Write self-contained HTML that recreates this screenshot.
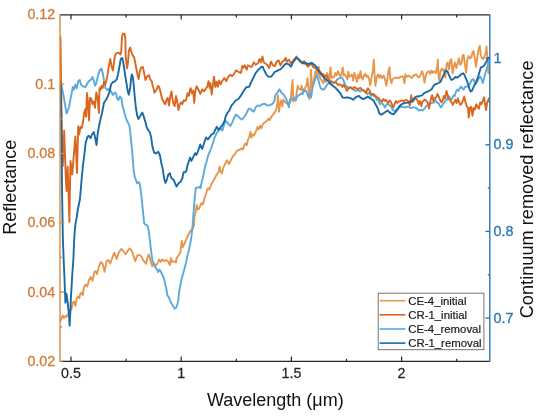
<!DOCTYPE html>
<html><head><meta charset="utf-8"><title>Reflectance spectra</title>
<style>html,body{margin:0;padding:0;background:#fff}body{width:550px;height:418px;overflow:hidden;position:relative}</style></head>
<body>
<svg width="550" height="418" viewBox="0 0 550 418" style="position:absolute;left:0;top:0">
<rect width="550" height="418" fill="#fff"/>
<clipPath id="c"><rect x="60.0" y="14.8" width="429.8" height="346.59999999999997"/></clipPath>
<g clip-path="url(#c)">
<polyline points="60.1,321.8 61.4,318.6 62.6,315.4 63.9,318.0 65.2,316.0 66.5,317.0 67.7,314.8 69.5,312.0 71.5,309.0 72.8,302.7 74.0,301.5 75.4,306.0 76.6,299.0 77.9,296.4 79.2,298.3 80.4,293.8 81.7,292.5 83.0,295.0 83.6,288.0 85.5,284.5 87.4,286.4 88.7,280.7 90.6,277.0 92.5,280.7 94.4,271.8 95.7,271.2 97.0,274.0 98.9,266.7 100.8,262.0 102.7,264.0 104.6,271.8 106.5,261.6 108.4,260.0 110.3,263.5 112.3,257.8 114.2,252.7 116.7,259.0 118.6,252.7 121.2,249.0 121.9,249.2 123.8,251.7 125.7,254.3 127.6,251.0 129.5,248.5 131.5,250.4 133.4,255.5 135.3,261.3 137.2,255.5 139.7,254.9 141.6,256.8 143.5,260.6 146.1,263.8 147.4,258.0 148.6,254.3 149.9,258.0 151.2,263.2 152.4,266.3 153.7,263.2 155.6,265.7 157.5,263.2 159.4,259.4 160.7,261.9 162.6,259.4 164.5,261.3 166.4,260.0 168.3,261.9 169.9,265.0 170.9,258.0 172.2,261.9 174.1,261.3 176.0,262.5 176.6,258.0 178.5,255.5 180.4,252.4 181.7,240.9 182.6,247.3 184.3,244.0 186.2,239.6 186.9,238.2 188.8,233.7 190.7,230.5 192.6,229.3 193.9,225.4 194.5,216.5 195.8,211.5 196.7,205.0 197.7,209.5 199.0,208.9 200.3,205.7 201.5,203.2 202.8,204.5 204.1,199.6 205.4,195.8 206.6,192.0 207.9,188.2 209.2,189.4 210.4,186.9 211.7,183.7 213.6,180.5 215.5,176.7 217.4,173.5 218.7,171.6 219.6,166.5 220.6,171.6 221.9,173.5 223.2,167.8 224.4,165.3 225.7,162.7 227.0,160.2 228.9,164.0 230.2,161.5 231.4,158.9 233.3,155.7 235.3,153.8 236.5,151.3 237.8,150.3 239.7,149.6 241.6,148.3 242.9,149.6 244.2,145.8 245.4,143.3 246.7,145.2 248.0,139.4 249.2,137.5 250.5,131.8 251.5,137.5 252.7,134.5 253.8,135.5 255.7,132.0 257.4,127.0 258.7,129.5 260.2,125.7 261.5,128.3 262.7,124.4 264.6,122.5 266.5,121.3 268.4,118.7 269.7,120.0 271.0,117.4 272.9,114.9 274.8,112.4 276.1,109.8 277.4,102.8 278.0,95.2 279.0,111.7 279.9,105.4 281.2,100.3 282.4,106.6 283.3,99.6 284.4,100.9 285.6,102.8 287.5,104.0 289.4,103.4 290.7,101.5 291.7,87.5 292.6,80.0 293.3,101.5 294.5,97.7 295.5,100.9 296.4,95.2 297.7,85.8 299.0,88.8 300.9,89.5 301.5,85.8 302.8,91.4 304.7,88.8 306.6,85.0 307.5,78.2 308.5,88.3 309.2,99.0 310.4,92.6 311.0,69.9 312.0,87.0 313.6,80.7 315.5,71.8 316.4,70.5 317.5,75.6 318.8,66.7 320.0,78.2 322.0,80.7 323.3,83.3 324.5,78.2 325.8,82.0 327.0,73.0 328.4,75.6 329.6,77.5 330.5,67.4 331.5,78.2 332.8,76.9 334.0,77.5 335.4,73.0 336.6,75.6 337.9,71.2 339.2,74.4 340.4,76.3 341.7,73.0 342.7,67.4 343.6,75.6 344.9,74.4 346.2,76.9 347.4,79.4 348.3,71.8 349.4,76.9 350.6,75.6 351.9,74.4 353.2,80.7 354.4,73.0 355.7,76.9 357.0,82.0 358.3,74.4 359.5,78.2 360.5,71.2 361.4,76.9 362.7,79.4 364.0,75.6 365.3,73.7 366.5,76.9 367.8,75.6 369.0,78.8 370.3,85.2 371.6,76.9 372.9,70.5 373.8,59.7 374.8,78.2 375.4,85.8 376.7,76.9 378.0,74.4 379.2,77.5 380.5,75.0 381.8,78.2 383.7,75.6 385.0,79.4 386.4,85.8 387.6,76.9 388.7,69.3 389.5,67.4 390.2,78.2 391.5,83.3 392.7,78.8 394.6,78.2 396.5,77.5 398.4,78.2 400.4,76.9 402.3,76.3 403.5,77.5 404.4,83.3 405.4,74.4 406.7,76.9 408.6,75.6 410.5,76.9 411.8,78.2 413.0,76.3 414.4,75.0 416.3,74.4 418.2,77.5 420.0,76.3 421.3,73.0 422.2,71.2 423.3,75.0 424.5,82.6 425.8,75.6 427.0,72.4 429.0,71.2 430.3,73.7 431.5,70.5 432.8,73.0 434.0,71.2 436.0,73.0 437.3,65.4 437.9,59.7 438.5,77.0 439.3,80.8 440.4,71.8 441.7,68.6 443.0,70.5 444.2,69.3 445.4,77.6 446.5,64.3 447.7,62.4 449.0,69.4 450.3,60.4 451.3,59.2 452.6,73.2 453.8,66.8 455.0,62.4 456.4,68.0 457.6,63.6 458.9,58.5 460.2,64.9 461.5,63.0 462.7,55.4 463.6,54.7 464.9,64.3 466.2,72.5 467.4,59.2 468.7,56.0 470.0,58.5 471.3,57.3 472.5,52.8 473.5,51.0 474.8,57.9 476.0,66.8 477.4,56.6 478.6,49.0 479.8,45.8 480.8,55.4 482.0,57.9 483.3,59.2 484.6,56.0 485.9,52.8 486.5,46.5 487.4,57.9 488.4,73.2" fill="none" stroke="#e8964c" stroke-width="1.9" stroke-linejoin="round" stroke-linecap="round"/>
<polyline points="60.7,82.0 61.5,86.0 62.6,91.0 63.9,97.6 65.8,109.0 66.7,113.5 67.7,110.4 69.0,107.8 70.3,100.0 71.5,94.0 72.8,87.0 74.0,89.6 75.4,84.5 76.6,88.3 78.5,80.7 79.8,80.0 81.0,84.5 83.0,86.4 85.5,87.0 87.4,83.3 89.4,80.7 91.3,79.4 92.5,76.9 93.8,80.7 95.0,85.8 96.3,83.3 98.3,74.4 100.2,69.3 101.4,68.6 102.7,73.0 104.0,80.7 105.5,88.0 107.0,90.0 108.5,89.0 109.5,91.0 111.0,91.3 112.9,95.0 114.8,92.5 116.0,93.5 117.3,99.0 118.6,100.0 119.9,96.4 121.3,97.9 122.5,105.5 124.5,113.2 126.4,119.5 128.3,123.3 129.5,126.0 130.8,137.7 132.1,150.4 133.4,167.0 134.6,176.5 135.9,180.0 137.2,183.3 139.1,182.0 140.4,187.7 141.6,197.9 142.9,210.6 144.2,223.3 145.4,224.5 147.4,225.6 148.6,230.0 149.9,240.3 151.2,251.7 152.4,260.6 153.7,263.2 155.0,267.0 156.9,269.5 158.2,272.0 159.4,269.5 160.7,271.4 162.6,275.5 163.9,278.5 165.2,283.9 166.4,289.0 167.3,295.4 169.0,297.3 169.9,300.4 171.5,303.6 173.2,306.2 174.7,308.7 176.0,308.0 177.3,304.9 178.3,300.4 179.2,291.5 180.4,285.2 181.7,278.8 182.5,276.0 183.6,272.0 184.9,267.0 186.2,261.9 187.4,255.5 188.7,251.0 190.1,244.5 191.4,236.9 192.6,225.4 193.9,208.0 194.9,196.0 195.8,188.2 197.7,187.5 199.6,186.9 200.5,188.2 201.5,183.0 202.8,178.0 204.1,171.6 205.4,165.3 206.6,161.5 207.9,156.4 209.2,152.8 211.1,148.3 212.4,144.5 213.6,140.7 214.9,136.9 216.8,133.0 218.7,129.9 220.6,128.6 222.5,130.5 223.8,125.4 225.7,121.0 227.6,122.9 230.2,126.0 232.1,122.9 234.0,117.8 235.9,114.6 237.8,115.9 239.7,117.8 241.6,119.7 243.5,117.8 245.4,115.3 247.3,111.4 248.6,108.9 250.5,108.8 251.9,110.4 253.8,111.7 255.7,107.3 257.6,105.4 259.5,106.0 261.5,104.7 263.4,104.0 265.3,104.0 267.2,105.4 269.1,105.4 271.0,104.7 272.9,103.4 274.2,101.5 275.4,95.2 276.7,93.3 278.0,92.0 279.3,89.3 280.5,90.7 281.8,93.3 283.7,94.5 285.0,97.0 286.3,99.0 287.5,102.8 288.8,107.3 289.7,100.3 290.7,98.4 292.6,99.6 294.5,97.7 295.8,100.3 297.1,96.4 299.0,95.2 300.9,93.5 302.8,94.0 303.4,89.6 304.7,91.4 306.0,90.5 307.3,93.9 308.5,97.0 309.8,93.9 311.1,97.7 312.3,89.0 313.6,84.0 314.2,82.0 316.2,76.3 316.9,75.0 318.2,79.4 319.5,84.5 320.7,88.3 322.6,89.6 324.5,89.0 326.5,85.8 327.7,83.9 329.6,83.3 331.5,81.3 333.4,82.6 335.4,82.0 337.3,79.4 339.2,78.2 341.0,77.5 342.3,78.2 343.6,80.7 345.5,85.5 348.0,87.7 350.6,87.0 353.2,89.6 355.7,90.9 358.3,90.3 360.2,91.5 362.0,89.6 364.0,90.3 365.9,92.2 367.2,94.0 369.0,92.8 371.0,96.0 372.9,94.0 374.2,96.6 375.4,95.4 376.7,99.8 378.0,99.2 379.2,102.4 380.0,104.2 381.9,102.9 383.8,105.4 385.0,107.4 386.4,104.8 387.6,103.5 389.5,105.4 391.5,106.7 392.7,109.9 394.6,111.2 395.9,109.9 397.8,108.6 399.7,107.4 401.6,106.7 403.5,107.4 405.4,107.4 407.4,106.7 409.3,107.4 411.2,108.0 413.0,107.4 415.0,107.4 416.9,108.6 418.8,110.5 420.7,109.9 422.6,110.5 424.5,108.6 426.4,106.0 428.3,104.8 430.3,103.5 432.2,102.9 434.0,102.3 435.0,99.5 436.9,102.4 438.8,103.6 440.7,107.4 442.0,106.2 443.3,103.6 445.2,101.0 447.0,99.8 448.4,96.0 449.6,97.3 450.9,99.8 452.2,98.5 453.4,95.4 454.7,96.0 456.0,91.5 457.3,89.6 458.5,90.9 459.8,88.4 461.0,86.5 462.4,88.4 463.6,89.6 464.9,87.0 466.8,86.5 468.7,85.8 470.6,82.3 471.9,79.8 473.2,79.0 474.4,81.5 475.7,84.0 477.0,82.0 478.3,79.2 480.2,76.6 481.4,78.8 482.8,83.0 484.0,78.5 485.3,73.2 486.5,69.4 487.8,65.5 489.0,60.4" fill="none" stroke="#5aaadb" stroke-width="1.9" stroke-linejoin="round" stroke-linecap="round"/>
<polyline points="60.4,37.0 60.8,60.0 61.5,110.0 62.2,150.0 62.8,166.0 63.5,150.0 64.2,130.7 64.8,150.0 65.8,178.0 66.5,191.0 67.7,166.7 69.4,222.0 70.5,161.0 72.2,174.4 74.0,152.7 75.4,136.4 77.0,173.0 78.2,126.3 79.2,134.5 80.4,126.9 81.7,128.0 83.0,121.8 84.3,112.3 85.5,109.0 86.2,116.7 86.9,93.0 88.0,102.7 89.1,120.5 90.0,97.6 91.3,99.0 92.5,104.0 93.8,101.5 95.0,107.8 96.3,92.5 97.6,97.6 98.9,113.0 99.5,88.0 100.5,90.0 101.5,86.0 102.7,88.0 104.0,82.0 105.3,84.5 107.2,76.9 109.0,65.4 110.3,59.0 111.6,66.7 112.9,70.5 114.8,56.5 116.0,53.4 118.6,52.7 120.5,54.6 121.3,50.4 121.9,37.7 122.8,33.7 124.5,33.7 125.3,37.7 125.7,56.8 127.0,68.3 127.9,63.2 128.9,50.4 130.2,47.6 131.5,52.4 132.7,55.5 134.0,56.8 135.3,63.2 136.5,69.5 137.8,75.9 138.6,79.0 139.7,72.0 141.0,67.6 142.9,67.0 144.2,73.3 145.4,80.0 147.4,76.0 149.3,75.3 149.9,78.8 151.8,81.4 152.8,86.5 153.7,89.0 154.4,92.8 156.3,90.3 158.2,85.8 159.4,87.7 160.7,92.8 162.0,98.5 163.9,102.4 165.2,104.3 166.4,99.8 167.7,97.9 169.0,105.5 170.3,96.0 171.5,91.5 172.4,97.9 173.4,103.6 174.7,106.2 176.0,96.0 177.0,100.4 178.5,110.0 179.8,104.3 181.1,102.4 182.3,104.3 183.6,100.4 185.5,101.0 186.3,99.0 187.5,93.3 188.8,95.8 190.1,89.4 190.7,88.2 192.0,93.3 193.3,90.7 194.2,103.0 195.2,92.0 196.5,86.3 197.7,88.2 199.0,90.7 200.3,93.9 202.2,89.4 204.1,91.3 206.0,88.2 207.3,86.9 208.5,81.2 209.8,88.2 210.4,83.1 211.7,94.5 212.7,86.9 214.0,76.7 215.3,86.9 216.6,81.8 217.8,86.9 219.1,80.5 220.6,84.4 222.5,80.5 224.4,78.0 226.3,81.2 228.3,76.7 230.2,74.8 232.1,76.1 234.0,74.2 235.9,70.4 237.8,71.6 239.7,72.3 241.0,72.9 242.3,65.9 243.5,67.8 244.8,65.3 246.7,69.7 248.0,65.3 249.9,66.5 251.9,66.7 253.8,62.3 255.7,64.8 257.6,63.5 259.5,59.0 260.8,62.3 262.5,56.5 263.7,62.3 265.3,63.5 267.2,64.8 269.1,68.0 271.0,61.6 272.9,65.4 274.8,66.0 276.7,61.6 278.6,60.4 280.5,65.4 282.4,61.6 284.4,60.4 285.6,57.8 286.9,61.6 288.8,59.7 290.7,62.9 292.6,61.6 294.5,59.0 296.4,56.5 298.3,59.0 300.3,61.6 302.2,63.5 304.1,61.0 306.0,64.2 307.9,66.7 309.8,64.8 311.7,64.2 313.6,67.4 315.5,68.0 317.4,70.5 319.3,70.5 321.0,73.0 323.0,74.0 325.0,76.0 327.0,75.6 328.4,79.0 330.3,80.7 332.2,82.0 334.0,83.0 336.0,82.0 338.0,85.0 339.2,84.5 340.4,84.5 342.4,87.0 343.6,84.5 345.5,87.7 346.8,90.9 348.7,88.4 350.6,87.7 352.5,89.0 354.4,87.0 356.3,88.4 358.3,89.0 360.2,87.7 362.0,89.6 364.0,90.9 365.9,92.8 367.8,88.4 369.0,89.6 370.3,92.2 371.6,94.7 373.5,94.0 375.4,96.0 377.3,97.3 379.2,98.5 380.0,100.4 381.9,101.6 383.2,99.0 384.5,101.0 385.7,99.7 387.0,101.6 388.3,102.9 389.5,100.4 390.8,101.6 392.0,104.8 393.4,107.4 394.6,104.2 395.9,101.0 397.2,102.9 398.4,101.6 400.4,101.0 402.3,100.4 404.2,101.0 406.0,99.7 408.0,101.0 409.9,105.4 411.2,95.3 412.4,102.3 413.7,100.4 415.0,99.0 416.3,98.4 417.5,100.4 418.8,104.2 420.0,101.0 421.3,106.0 422.6,101.6 423.9,100.4 425.2,99.7 426.4,101.0 427.7,102.3 429.0,108.6 430.3,101.6 431.5,96.5 432.2,95.3 433.4,101.0 434.7,98.4 436.3,97.3 437.5,94.0 438.8,96.6 440.0,99.8 441.4,102.4 442.6,100.4 443.9,96.0 445.2,98.5 446.5,90.9 447.7,95.4 449.0,99.2 450.3,100.4 451.5,102.4 452.8,104.9 454.0,102.4 455.4,99.8 456.6,103.0 457.9,98.5 459.2,102.4 460.4,104.9 461.7,103.6 463.0,100.4 464.3,96.6 465.5,102.4 466.8,106.2 468.0,108.0 468.7,117.6 470.0,108.0 471.3,106.8 472.5,115.7 473.8,108.0 475.0,109.4 476.3,104.3 477.6,106.8 478.9,108.7 480.2,102.4 481.4,104.3 482.7,101.0 484.0,97.3 485.3,105.5 486.1,110.0 487.2,102.4 488.4,99.8 489.2,98.0" fill="none" stroke="#d9681e" stroke-width="1.9" stroke-linejoin="round" stroke-linecap="round"/>
<polyline points="60.7,83.0 61.0,100.0 61.6,150.0 62.2,200.0 62.9,240.0 63.9,265.4 64.5,278.0 64.9,290.0 65.4,302.7 66.5,293.8 67.7,302.7 69.0,315.4 69.6,325.6 70.3,313.0 70.9,297.6 71.5,288.0 72.2,275.6 73.4,259.0 74.0,243.0 74.7,232.0 75.4,224.4 76.6,218.0 77.9,209.0 79.8,200.0 80.6,192.0 81.7,178.0 83.0,165.4 84.3,155.0 85.5,143.8 86.2,141.0 87.4,137.0 88.7,135.8 90.6,138.3 91.9,134.5 93.8,132.0 95.0,137.0 96.5,145.0 97.6,134.5 98.9,126.9 100.2,120.5 102.0,113.0 104.0,102.7 105.9,100.0 107.8,96.4 109.7,91.5 111.0,84.5 112.9,82.0 114.8,81.3 116.7,79.4 118.0,74.4 119.2,68.0 120.5,60.4 121.5,58.0 122.5,58.3 123.8,65.7 125.0,74.0 126.4,82.6 127.6,90.3 128.7,94.7 130.2,87.7 131.2,77.5 131.8,74.5 132.7,76.5 133.4,81.4 134.6,95.4 135.9,108.0 137.2,115.7 138.4,118.9 140.4,115.7 142.3,112.5 143.5,115.7 145.4,122.0 146.5,126.5 147.4,128.8 149.9,132.6 151.2,137.7 152.4,146.6 154.1,152.4 155.6,153.6 158.2,151.7 160.0,155.5 161.3,163.2 162.6,168.3 163.6,175.0 164.5,180.0 165.5,182.9 167.1,178.8 168.3,174.5 169.9,173.3 170.6,176.0 171.5,178.2 173.4,179.5 175.3,183.9 176.6,186.5 178.5,183.3 180.4,182.0 182.3,178.5 183.6,172.3 185.0,172.3 186.3,171.0 187.5,165.3 188.8,161.5 190.1,157.6 191.4,160.8 192.6,158.3 193.9,155.7 195.2,153.2 196.5,155.0 197.7,151.8 199.0,148.3 200.3,144.5 202.2,149.0 204.1,143.3 206.0,137.5 207.9,139.4 209.8,136.9 211.7,134.4 213.6,133.7 214.9,130.5 216.8,126.7 218.7,129.9 220.6,127.4 222.5,124.8 224.4,121.6 225.7,116.5 227.6,112.7 229.5,110.2 231.4,105.7 233.3,103.5 235.6,100.5 238.4,99.0 240.3,96.4 242.3,93.3 244.2,90.0 246.1,87.5 248.0,86.9 249.2,86.9 250.5,83.5 251.9,80.7 253.8,76.9 255.7,73.0 257.6,70.5 259.5,68.6 261.5,66.7 262.7,66.7 264.0,69.9 265.9,73.7 267.8,76.3 269.7,76.9 271.6,76.3 273.5,73.7 274.8,71.8 276.7,71.2 278.6,69.9 280.5,69.3 282.4,67.4 284.4,64.8 286.3,63.5 288.2,64.2 289.4,64.8 291.0,66.7 292.6,62.9 294.5,60.4 296.4,57.8 298.3,59.0 300.3,61.0 302.2,62.3 304.1,63.5 306.0,62.9 307.9,64.2 309.8,63.5 311.7,62.9 313.6,64.2 315.5,66.0 316.9,67.4 318.8,71.2 320.7,73.7 322.6,76.0 325.2,78.8 327.7,80.7 330.3,83.5 332.8,85.8 335.4,87.7 337.9,90.5 340.4,93.4 342.4,97.3 344.3,97.9 346.8,97.3 349.4,97.9 351.3,98.5 353.2,99.8 355.0,97.9 357.0,96.6 358.9,96.0 360.8,97.9 363.3,99.2 365.9,97.9 367.8,96.6 369.7,97.9 371.6,99.2 373.5,100.4 374.8,103.0 376.7,106.2 378.0,109.4 379.2,113.2 381.2,114.8 383.0,113.7 385.7,111.8 387.6,110.5 389.5,112.4 391.5,113.7 393.4,114.4 395.3,112.4 397.2,110.0 399.0,106.7 401.0,104.8 402.9,103.5 404.8,102.9 406.7,102.9 408.6,102.3 410.5,101.6 412.4,100.4 414.4,97.8 416.3,96.5 418.2,96.5 420.0,95.9 422.0,95.3 423.9,93.4 425.8,92.3 427.7,91.5 429.6,90.5 431.5,89.5 432.8,87.0 434.7,84.5 436.6,84.0 438.5,83.0 440.4,82.0 442.0,78.7 443.6,75.0 444.9,72.0 446.2,70.7 447.4,71.2 448.7,74.4 450.3,78.0 451.5,80.0 453.4,79.0 455.4,77.0 457.3,77.6 459.2,76.3 461.0,74.4 463.0,73.2 464.3,74.7 465.5,77.5 466.8,80.5 468.0,84.0 469.4,88.5 470.6,91.5 471.9,90.9 473.2,87.8 474.4,85.2 475.5,83.5 477.0,79.7 478.3,76.0 479.5,71.9 480.8,67.4 482.7,66.8 484.6,64.9 485.9,62.4 487.2,59.8 488.4,57.9 489.3,57.5" fill="none" stroke="#1a6aa3" stroke-width="1.9" stroke-linejoin="round" stroke-linecap="round"/>
</g>
<g stroke="#262626" stroke-width="1.2" fill="none">
<line x1="60.0" y1="14.8" x2="489.8" y2="14.8"/>
<line x1="60.0" y1="361.4" x2="489.8" y2="361.4"/>
<line x1="71.0" y1="361.4" x2="71.0" y2="356.6"/>
<line x1="71.0" y1="14.8" x2="71.0" y2="19.6"/>
<line x1="181.2" y1="361.4" x2="181.2" y2="356.6"/>
<line x1="181.2" y1="14.8" x2="181.2" y2="19.6"/>
<line x1="291.4" y1="361.4" x2="291.4" y2="356.6"/>
<line x1="291.4" y1="14.8" x2="291.4" y2="19.6"/>
<line x1="401.6" y1="361.4" x2="401.6" y2="356.6"/>
<line x1="401.6" y1="14.8" x2="401.6" y2="19.6"/>
<line x1="126.1" y1="361.4" x2="126.1" y2="358.8"/>
<line x1="126.1" y1="14.8" x2="126.1" y2="17.4"/>
<line x1="236.3" y1="361.4" x2="236.3" y2="358.8"/>
<line x1="236.3" y1="14.8" x2="236.3" y2="17.4"/>
<line x1="346.5" y1="361.4" x2="346.5" y2="358.8"/>
<line x1="346.5" y1="14.8" x2="346.5" y2="17.4"/>
<line x1="456.7" y1="361.4" x2="456.7" y2="358.8"/>
<line x1="456.7" y1="14.8" x2="456.7" y2="17.4"/>
</g>
<g stroke="#d4863f" stroke-width="1.35" fill="none">
<line x1="60.0" y1="14.2" x2="60.0" y2="362.0"/>
<line x1="60.0" y1="292.1" x2="64.3" y2="292.1"/>
<line x1="60.0" y1="222.8" x2="64.3" y2="222.8"/>
<line x1="60.0" y1="153.4" x2="64.3" y2="153.4"/>
<line x1="60.0" y1="84.1" x2="64.3" y2="84.1"/>
<line x1="60.0" y1="361.4" x2="62.8" y2="361.4"/>
<line x1="60.0" y1="326.7" x2="62.0" y2="326.7"/>
<line x1="60.0" y1="257.4" x2="62.0" y2="257.4"/>
<line x1="60.0" y1="188.1" x2="62.0" y2="188.1"/>
<line x1="60.0" y1="118.8" x2="62.0" y2="118.8"/>
<line x1="60.0" y1="49.5" x2="62.0" y2="49.5"/>
</g>
<g stroke="#2574ab" stroke-width="1.35" fill="none">
<line x1="489.8" y1="14.2" x2="489.8" y2="362.0"/>
<line x1="489.8" y1="318.1" x2="485.5" y2="318.1"/>
<line x1="489.8" y1="231.4" x2="485.5" y2="231.4"/>
<line x1="489.8" y1="144.8" x2="485.5" y2="144.8"/>
<line x1="489.8" y1="58.1" x2="485.5" y2="58.1"/>
<line x1="489.8" y1="274.8" x2="487.8" y2="274.8"/>
<line x1="489.8" y1="188.1" x2="487.8" y2="188.1"/>
<line x1="489.8" y1="101.5" x2="487.8" y2="101.5"/>
</g>
<g font-family="Liberation Sans, Arial, sans-serif" font-size="14.9" fill="#d27a35" stroke="#d27a35" stroke-width="0.3" text-anchor="end">
<text transform="translate(55.2,366.0) scale(0.96,1)">0.02</text>
<text transform="translate(55.2,296.7) scale(0.96,1)">0.04</text>
<text transform="translate(55.2,227.4) scale(0.96,1)">0.06</text>
<text transform="translate(55.2,158.0) scale(0.96,1)">0.08</text>
<text transform="translate(55.2,88.7) scale(0.96,1)">0.1</text>
<text transform="translate(55.2,19.4) scale(0.96,1)">0.12</text>
</g>
<g font-family="Liberation Sans, Arial, sans-serif" font-size="14.9" fill="#2577b0" stroke="#2577b0" stroke-width="0.3" text-anchor="start">
<text transform="translate(493.6,322.7) scale(0.96,1)">0.7</text>
<text transform="translate(493.6,236.0) scale(0.96,1)">0.8</text>
<text transform="translate(493.6,149.4) scale(0.96,1)">0.9</text>
<text transform="translate(493.6,62.7) scale(0.96,1)">1</text>
</g>
<g font-family="Liberation Sans, Arial, sans-serif" font-size="14.9" fill="#262626" stroke="#262626" stroke-width="0.25" text-anchor="middle">
<text transform="translate(71.0,378.4) scale(0.96,1)">0.5</text>
<text transform="translate(181.2,378.4) scale(0.96,1)">1</text>
<text transform="translate(291.4,378.4) scale(0.96,1)">1.5</text>
<text transform="translate(401.6,378.4) scale(0.96,1)">2</text>
</g>
<text font-family="Liberation Sans, Arial, sans-serif" font-size="18" fill="#111" text-anchor="middle" x="275.3" y="406.4">Wavelength (μm)</text>
<text font-family="Liberation Sans, Arial, sans-serif" font-size="18" fill="#111" text-anchor="middle" transform="translate(16.0,187.3) rotate(-90)">Reflectance</text>
<text font-family="Liberation Sans, Arial, sans-serif" font-size="18.2" fill="#111" text-anchor="middle" transform="translate(532.8,189.4) rotate(-90)">Continuum removed reflectance</text>
<rect x="378.2" y="293.2" width="105.7" height="56.5" fill="#fff" stroke="#666" stroke-width="0.9"/>
<line x1="379.6" y1="300.7" x2="405.5" y2="300.7" stroke="#e8964c" stroke-width="1.6"/>
<text font-family="Liberation Sans, Arial, sans-serif" font-size="11.4" fill="#1a1a1a" stroke="#1a1a1a" stroke-width="0.2" x="408.2" y="304.6">CE-4_initial</text>
<line x1="379.6" y1="314.8" x2="405.5" y2="314.8" stroke="#d9681e" stroke-width="1.6"/>
<text font-family="Liberation Sans, Arial, sans-serif" font-size="11.4" fill="#1a1a1a" stroke="#1a1a1a" stroke-width="0.2" x="408.2" y="318.7">CR-1_initial</text>
<line x1="379.6" y1="329.0" x2="405.5" y2="329.0" stroke="#5aaadb" stroke-width="1.6"/>
<text font-family="Liberation Sans, Arial, sans-serif" font-size="11.4" fill="#1a1a1a" stroke="#1a1a1a" stroke-width="0.2" x="408.2" y="332.9">CE-4_removal</text>
<line x1="379.6" y1="343.1" x2="405.5" y2="343.1" stroke="#1a6aa3" stroke-width="1.6"/>
<text font-family="Liberation Sans, Arial, sans-serif" font-size="11.4" fill="#1a1a1a" stroke="#1a1a1a" stroke-width="0.2" x="408.2" y="347.0">CR-1_removal</text>
</svg>
</body></html>
